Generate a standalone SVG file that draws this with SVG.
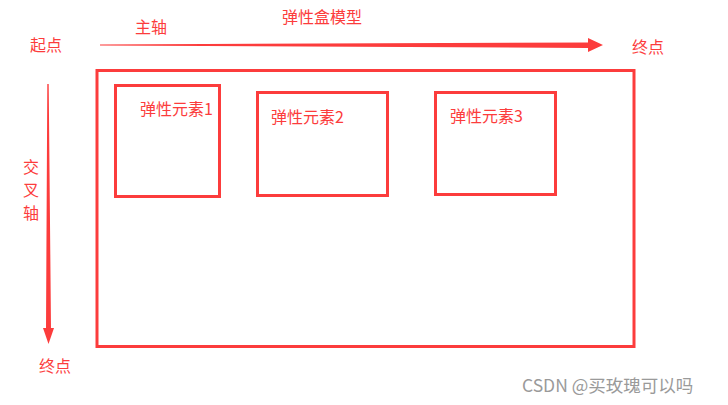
<svg xmlns="http://www.w3.org/2000/svg" width="728" height="405" viewBox="0 0 728 405">
<style>
.t{font-family:"Noto Sans CJK SC","Liberation Sans",sans-serif;font-size:16px;fill:#fc3c3c}
.b{fill:none;stroke:#fc3c3c;stroke-width:3}
.a{fill:#fc3c3c}
</style>
<rect width="728" height="405" fill="#fff"/>
<g id="labels">
<text class="t" x="30" y="51">起点</text>
<text class="t" x="135" y="33">主轴</text>
<text class="t" x="282" y="23">弹性盒模型</text>
<text class="t" x="632" y="53">终点</text>
<text class="t" x="23" y="173">交</text>
<text class="t" x="23" y="196">叉</text>
<text class="t" x="23" y="219">轴</text>
<text class="t" x="39" y="372">终点</text>
</g>
<g id="connectors">
<polygon class="a" points="100,44.5 588,42.5 588,38 603,45 588,52 588,48 100,45.5"/>
<polygon class="a" points="47.3,84 48.7,84 51,328 54,328 48.5,344 43,328 46,328"/>
</g>
<g id="container"><rect class="b" x="97" y="70.5" width="537" height="276"/></g>
<g id="item1"><rect class="b" x="115.5" y="85.5" width="104" height="111"/><text class="t" x="140" y="115">弹性元素1</text></g>
<g id="item2"><rect class="b" x="257.5" y="92.5" width="130" height="103"/><text class="t" x="271" y="123">弹性元素2</text></g>
<g id="item3"><rect class="b" x="435.5" y="92.5" width="120" height="102"/><text class="t" x="450" y="122">弹性元素3</text></g>
<text x="522" y="392" style="font-family:'Noto Sans CJK SC','Liberation Sans',sans-serif;font-size:17.5px;fill:#9a9a9a">CSDN @买玫瑰可以吗</text>
</svg>
